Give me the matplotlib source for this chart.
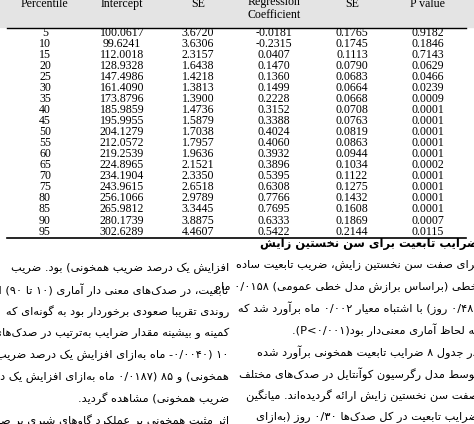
import matplotlib
matplotlib.use('Agg')
import matplotlib.pyplot as plt
from matplotlib.patches import Rectangle

percentile = [5, 10, 15, 20, 25, 30, 35, 40, 45, 50, 55, 60, 65, 70, 75, 80, 85, 90, 95]
intercept = ['100.0617', '99.6241', '112.0018', '128.9328', '147.4986', '161.4090', '173.8796',
             '185.9859', '195.9955', '204.1279', '212.0572', '219.2539', '224.8965', '234.1904',
             '243.9615', '256.1066', '265.9812', '280.1739', '302.6289']
se_int = ['3.6720', '3.6306', '2.3157', '1.6438', '1.4218', '1.3813', '1.3900', '1.4736', '1.5879',
          '1.7038', '1.7957', '1.9636', '2.1521', '2.3350', '2.6518', '2.9789', '3.3445', '3.8875', '4.4607']
reg_coef = ['-0.0181', '-0.2315', '0.0407', '0.1470', '0.1360', '0.1499', '0.2228', '0.3152', '0.3388',
            '0.4024', '0.4060', '0.3932', '0.3896', '0.5395', '0.6308', '0.7766', '0.7695', '0.6333', '0.5422']
se_reg = ['0.1765', '0.1745', '0.1113', '0.0790', '0.0683', '0.0664', '0.0668', '0.0708', '0.0763',
          '0.0819', '0.0863', '0.0944', '0.1034', '0.1122', '0.1275', '0.1432', '0.1608', '0.1869', '0.2144']
p_value = ['0.9182', '0.1846', '0.7143', '0.0629', '0.0466', '0.0239', '0.0009', '0.0001', '0.0001',
           '0.0001', '0.0001', '0.0001', '0.0002', '0.0001', '0.0001', '0.0001', '0.0001', '0.0007', '0.0115']
headers = ['Percentile', 'Intercept', 'SE', 'Regression\nCoefficient', 'SE', 'P value']

left_lines = [
    'افزایش یک درصد ضریب همخونی) بود. ضریب',
    'تابعیت، در صدک‌های معنی دار آماری (۱۰ تا ۹۰) از',
    'روندی تقریباً صعودی برخوردار بود به گونه‌ای که',
    'کمینه و بیشینه مقدار ضرایب به‌ترتیب در صدک‌های',
    '۱۰ (۰/۰۰۴۰- ماه به‌ازای افزایش یک درصد ضریب',
    'همخونی) و ۸۵ (۰/۰۱۸۷ ماه به‌ازای افزایش یک درصد',
    'ضریب همخونی) مشاهده گردید.',
    'اثر مثبت همخونی بر عملکرد گاوهای شیری بر صفت',
    'سن نخستین زایش در بسیاری از تحقیقات نیز گزارش',
]
right_title = 'ضرایب تابعیت برای سن نخستین زایش'
right_lines = [
    'برای صفت سن نخستین زایش، ضریب تابعیت ساده',
    'خطی (براساس برازش مدل خطی عمومی) ۰/۰۱۵۸ ماه',
    '(۰/۴۸ روز) با اشتباه معیار ۰/۰۰۲ ماه برآورد شد که',
    'به لحاظ آماری معنی‌دار بود(P<۰/۰۰۱).',
    'در جدول ۸ ضرایب تابعیت همخونی برآورد شده',
    'توسط مدل رگرسیون کوآنتایل در صدک‌های مختلف',
    'صفت سن نخستین زایش ارائه گردیده‌اند. میانگین',
    'ضرایب تابعیت در کل صدک‌ها ۰/۳۰ روز (به‌ازای',
]

# simple arabic/persian shaping: iso, fin, ini, med
forms = {
    'ا': (0xFE8D, 0xFE8E), 'آ': (0xFE81, 0xFE82), 'أ': (0xFE83, 0xFE84),
    'د': (0xFEA9, 0xFEAA), 'ذ': (0xFEAB, 0xFEAC), 'ر': (0xFEAD, 0xFEAE),
    'ز': (0xFEAF, 0xFEB0), 'ژ': (0xFB8A, 0xFB8B), 'و': (0xFEED, 0xFEEE),
    'ب': (0xFE8F,), 'ت': (0xFE95,), 'ث': (0xFE99,), 'ج': (0xFE9D,), 'ح': (0xFEA1,),
    'خ': (0xFEA5,), 'س': (0xFEB1,), 'ش': (0xFEB5,), 'ص': (0xFEB9,), 'ض': (0xFEBD,),
    'ط': (0xFEC1,), 'ظ': (0xFEC5,), 'ع': (0xFEC9,), 'غ': (0xFECD,), 'ف': (0xFED1,),
    'ق': (0xFED5,), 'ل': (0xFEDD,), 'م': (0xFEE1,), 'ن': (0xFEE5,), 'ه': (0xFEE9,),
    'ئ': (0xFE89,), 'پ': (0xFB56,), 'چ': (0xFB7A,), 'ک': (0xFB8E,), 'گ': (0xFB92,),
    'ی': (0xFBFC,),
}


def dual(c):
    return c in forms and len(forms[c]) == 1


def shape(s):
    s = s.replace('\u064b', '')
    out = []
    i = 0
    n = len(s)
    while i < n:
        c = s[i]
        if c not in forms:
            out.append(c)
            i += 1
            continue
        prev_j = i > 0 and dual(s[i - 1])
        if c == 'ل' and i + 1 < n and s[i + 1] == 'ا':
            out.append(chr(0xFEFC if prev_j else 0xFEFB))
            i += 2
            continue
        next_j = i + 1 < n and s[i + 1] in forms
        f = forms[c]
        if len(f) == 2:
            out.append(chr(f[1] if prev_j else f[0]))
        else:
            b = f[0]
            if prev_j and next_j and dual(c):
                out.append(chr(b + 3))
            elif prev_j:
                out.append(chr(b + 1))
            elif next_j:
                out.append(chr(b + 2))
            else:
                out.append(chr(b))
        i += 1
    s = ''.join(out).replace('\u200c', '')
    # visual order: reverse, keep number/latin runs LTR, mirror brackets
    rev = s[::-1]
    res, run = [], ''
    ltr = set('0123456789۰۱۲۳۴۵۶۷۸۹/<>.PABCDEFGHIJKLMNOQRSTUVWXYZ')
    for ch in rev:
        if ch in ltr:
            run += ch
        else:
            if run:
                res.append(run[::-1])
                run = ''
            res.append({'(': ')', ')': '('}.get(ch, ch))
    if run:
        res.append(run[::-1])
    return ''.join(res)


fig = plt.figure(figsize=(4.74, 4.24), dpi=100)
ax = fig.add_axes([0, 0, 1, 1])
ax.set_xlim(0, 474)
ax.set_ylim(424, 0)
ax.axis('off')

serif = 'Liberation Serif'
ax.add_patch(Rectangle((0, -5), 474, 32, color='#e4e4e4', zorder=0))
ax.plot([7, 466], [27.5, 27.5], color='black', lw=1.0)
ax.plot([7, 466], [238, 238], color='black', lw=1.2)

col_x = [45, 122, 198, 274, 352, 428]
header_y = [4, 4, 4, 8.5, 4, 4]
for x, y, h in zip(col_x, header_y, headers):
    ax.text(x, y, h, ha='center', va='center', fontsize=8.6, family=serif, linespacing=1.05)

columns = [[str(p) for p in percentile], intercept, se_int, reg_coef, se_reg, p_value]
for x, col in zip(col_x, columns):
    for i, v in enumerate(col):
        ax.text(x, 33 + i * 11.03, v, ha='center', va='center', fontsize=8.6, family=serif)

for i, line in enumerate(left_lines):
    ax.text(229, 268 + i * 21.8, shape(line), ha='right', va='center', fontsize=8.2,
            family='DejaVu Sans')

ax.text(478, 243, shape(right_title), ha='right', va='center', fontsize=8.3,
        family='DejaVu Sans', fontweight='bold')
for i, line in enumerate(right_lines):
    ax.text(478, 265 + i * 21.8, shape(line), ha='right', va='center', fontsize=8.2,
            family='DejaVu Sans')

fig.savefig('out.png', dpi=100)
